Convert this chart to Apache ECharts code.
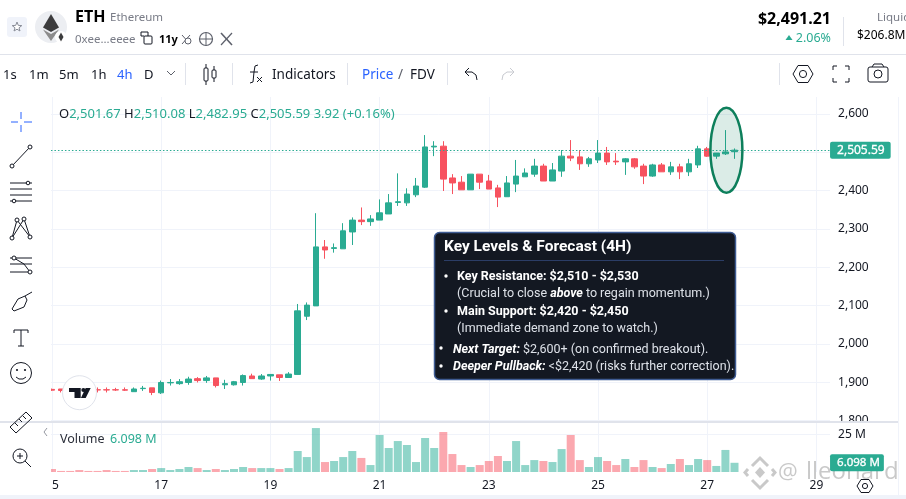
<!DOCTYPE html>
<html>
<head>
<meta charset="utf-8">
<style>html,body{margin:0;padding:0;background:#fff}#c{width:906px;height:499px}</style>
<script src="https://cdn.jsdelivr.net/npm/echarts@6/dist/echarts.min.js"></script>
</head>
<body>
<div id="c"></div>
<script>
const dayLabels = ['15','17','19','21','23','25','27','29'];
const opens  = [1881,1882,1881,1880,1881,1880,1880,1880,1880,1875,1883,1885,1872,1898,1896,1899,1909,1904,1911,1893,1893,1899,1916,1908,1916,1919,1912,1920,2072,2099,2253,2249,2248,2292,2323,2319,2323,2339,2369,2368,2389,2409,2514,2516,2433,2422,2402,2443,2425,2407,2384,2417,2436,2443,2464,2425,2451,2490,2488,2470,2480,2498,2477,2475,2483,2464,2438,2467,2449,2462,2449,2467,2509,2490,2496,2501.67];
const closes = [1879,1878,1879,1879,1880,1879.5,1879.5,1879.5,1879,1882,1884,1873,1899,1899,1901,1908,1904,1911,1891,1896,1901,1917,1909,1916,1920,1912,1921,2086,2101,2253,2245,2251,2295,2323,2319,2326,2342,2368,2371,2391,2412,2514,2516,2430,2420,2402,2443,2422,2404,2383,2420,2438,2446,2464,2425,2454,2490,2485,2470,2483,2498,2475,2475,2483,2462,2438,2467,2449,2462,2449,2470,2509,2490,2498,2501,2505.59];
const highs  = [1883,1882,1883,1882,1884,1886,1886,1885,1886,1886,1890,1885,1904,1908,1908,1914,1913,1916,1911,1906,1903,1920,1922,1921,1921,1919,1926,2104,2108,2341,2271,2262,2315,2330,2356,2336,2377,2391,2445,2406,2433,2545,2529,2529,2443,2438,2443,2443,2441,2415,2438,2480,2458,2483,2470,2472,2506,2532,2506,2488,2532,2514,2498,2485,2485,2470,2470,2472,2475,2470,2483,2517,2514,2498,2558,2510.08];
const lows   = [1877,1873,1876,1876,1876,1873,1873,1877,1877,1875,1877,1866,1869,1891,1893,1893,1899,1898,1886,1882,1891,1891,1909,1906,1904,1903,1912,1920,2062,2099,2222,2238,2248,2258,2310,2308,2323,2339,2360,2360,2383,2407,2490,2399,2391,2402,2402,2404,2404,2357,2384,2396,2436,2436,2425,2425,2436,2477,2454,2462,2472,2467,2467,2441,2457,2417,2436,2449,2441,2430,2438,2459,2488,2483,2493,2482.95];
const volumes = [2.0,0.7,0.7,1.3,0.7,0.7,1.3,0.7,0.7,1.3,1.3,2.0,2.6,1.3,2.0,3.3,2.6,1.3,2.0,1.3,2.0,3.3,2.6,2.6,2.6,2.0,2.6,13.9,9.9,29.1,6.6,7.3,9.9,13.9,9.3,4.6,24.5,15.9,20.5,17.9,6.6,22.5,15.9,26.5,11.9,4.6,3.3,4.6,7.3,10.6,7.3,20.5,4.6,7.9,7.3,6.6,15.2,24.5,7.9,3.3,9.9,7.3,4.6,8.6,3.3,7.9,3.3,2.6,5.3,8.6,4.6,8.6,7.9,4.0,14.6,6.098];
const lastPrice = 2505.59, lastVolume = 6.098;
const BANDS = 86, PER_LABEL = 12;

const categories = [];
for (let i = 0; i < BANDS; i++) categories.push(i % PER_LABEL === 0 ? dayLabels[i / PER_LABEL] : 'c' + i);

const UP = '#2aab92', DOWN = '#f7525f', INK = '#131722', GREY = '#787b86', BLUE = '#2962ff', RULE = '#e0e3eb', GRID = '#f0f3fa';
const UI = '"Noto Sans", sans-serif', BOX = 'Roboto, sans-serif';

const kData = opens.map((o, i) => [o, closes[i], lows[i], highs[i]]);
const vData = volumes.map((v, i) => ({value: v, itemStyle: {color: closes[i] >= opens[i] ? 'rgba(34,171,148,0.5)' : 'rgba(247,82,95,0.5)'}}));

const g = [];
const Z = 100;
const rect = (x, y, w, h, fill, extra) => g.push({type:'rect', z:(extra&&extra.z)||Z, silent:true, shape:{x,y,width:w,height:h,r:(extra&&extra.r)||0}, style:{fill}});
const ln = (pts, color, lw) => g.push({type:'polyline', z:Z+1, silent:true, shape:{points:pts}, style:{stroke:color||INK, lineWidth:lw||1, fill:null}});
const poly = (pts, fill) => g.push({type:'polygon', z:Z+1, silent:true, shape:{points:pts}, style:{fill}});
const circ = (x, y, r, fill, stroke, lw) => g.push({type:'circle', z:Z+1, silent:true, shape:{cx:x,cy:y,r}, style:{fill:fill||null, stroke:stroke||null, lineWidth:lw||1}});
const txt = (x, y, s, o) => { o = o||{}; g.push({type:'text', z:o.z||Z+2, silent:true, x, y:y+1, style:Object.assign({text:s, fill:o.c||INK, fontFamily:o.f||UI, fontSize:o.s||13, fontWeight:o.w||'normal', fontStyle:o.i||'normal', textAlign:o.a||'left', textVerticalAlign:'middle'}, o.rich?{rich:o.rich}:{})}); };

// panels around the plot
rect(0, 0, 906, 55, '#fff');
rect(0, 55, 906, 42, '#fff');
rect(0, 97, 51, 398, '#fff');
rect(44, 460, 7, 13, '#fff', {z:300});
rect(898, 97, 8, 398, '#fff');
rect(0, 495, 906, 4, GRID);
ln([[0,54.5],[906,54.5]], RULE);
rect(0, 421, 898, 2, RULE);
rect(830, 423, 68, 5, '#fff');
ln([[898.5,97],[898.5,495]], GRID);

// header
rect(7, 17, 20, 20, GRID, {r:3});
poly([[17,22],[18.3,25.4],[21.8,25.6],[19,27.8],[20,31],[17,29.2],[14,31],[15,27.8],[12.2,25.6],[15.7,25.4]], '#fff');
ln([[17,22],[18.3,25.4],[21.8,25.6],[19,27.8],[20,31],[17,29.2],[14,31],[15,27.8],[12.2,25.6],[15.7,25.4],[17,22]], '#8a8e99');
circ(51, 27, 16, '#eceef2');
poly([[51,14],[43,27.5],[51,32],[59,27.5]], '#3c3c3d');
poly([[43,29.5],[51,41],[59,29.5],[51,34]], '#8c8c8c');
circ(61, 37, 6, '#fff');
poly([[61,32.5],[58.5,37],[61,41.5],[63.5,37]], '#3c3c3d');
txt(75, 16, 'ETH', {s:16, w:'bold', c:'#000'});
txt(110, 17, 'Ethereum', {s:11.5, c:GREY});
txt(75, 39, '0xee...eeee', {s:11.5, c:GREY});
g.push({type:'rect', z:Z+1, silent:true, shape:{x:144,y:36,width:8,height:8,r:1}, style:{fill:null,stroke:INK,lineWidth:1}});
ln([[144,36],[141,36],[141,32],[148,32],[148,36]], INK);
txt(159, 39, '11y', {s:11, w:'bold', c:'#000'});
ln([[182,35],[190,44]], '#5d606b'); ln([[190,35],[182,44]], '#5d606b'); circ(188,41,3,'#fff','#5d606b');
circ(206, 39, 6.5, null, '#5d606b', 1.2); ln([[199.5,39],[212.5,39]],'#5d606b'); ln([[206,32.5],[206,45.5]],'#5d606b');
ln([[221,33],[232,45]], '#5d606b', 1.6); ln([[232,33],[221,45]], '#5d606b', 1.2);
txt(831, 18, '$2,491.21', {s:16, w:'bold', a:'right', c:'#000'});
txt(831, 37, '2.06%', {s:12.5, a:'right', c:UP});
poly([[789,35],[785.5,40],[792.5,40]], UP);
ln([[843.5,17],[843.5,46]], RULE);
txt(877, 17, 'Liquid', {s:11.5, c:GREY});
txt(857, 35, '$206.8M', {s:12, c:'#000'});

// toolbar
[['1s',3],['1m',29],['5m',59],['1h',91],['4h',117],['D',144]].forEach(([t,x]) => txt(x, 74, t, {s:13, c:t==='4h'?BLUE:INK}));
ln([[167,71],[171,75],[175,71]], '#5d606b');
[185.5,232.5,347.5,447.5,779.5].forEach(x => ln([[x,63],[x,85]], RULE));
g.push({type:'rect', z:Z+1, silent:true, shape:{x:204,y:68,width:4,height:13,r:1}, style:{fill:null,stroke:INK}});
g.push({type:'rect', z:Z+1, silent:true, shape:{x:212,y:70,width:4,height:8,r:1}, style:{fill:null,stroke:INK}});
ln([[206,64],[206,68]]); ln([[206,81],[206,85]]); ln([[214,66],[214,70]]); ln([[214,78],[214,82]]);
ln([[258,65],[255,66],[254,72],[253,82],[250,83]]); ln([[250,72],[258,72]]);
ln([[257,77],[262,82]]); ln([[262,77],[257,82]]);
txt(272, 74, 'Indicators', {s:13.5});
txt(362, 74, 'Price', {s:13.5, c:BLUE});
txt(398, 74, '/', {s:13.5, c:'#5d606b'});
txt(410, 74, 'FDV', {s:13.5});
ln([[465,72],[472,72],[476,75],[477,80]]); ln([[469,68],[465,72],[469,76]]);
ln([[514,72],[507,72],[503,75],[502,80]], '#c8cad0'); ln([[510,68],[514,72],[510,76]], '#c8cad0');
ln([[793,74],[798,65.5],[808,65.5],[813,74],[808,82.5],[798,82.5],[793,74]]); circ(803,74,3.6,null,INK);
[[[833,70],[833,66],[837,66]],[[845,66],[849,66],[849,70]],[[849,78],[849,82],[845,82]],[[837,82],[833,82],[833,78]]].forEach(p => ln(p));
g.push({type:'rect', z:Z+1, silent:true, shape:{x:868,y:67,width:20,height:15,r:2}, style:{fill:null,stroke:INK}});
ln([[872,67],[874,64],[882,64],[884,67]]); circ(878,74,4,null,INK);

// left drawing tools
ln([[11,122],[18,122]],BLUE); ln([[24,122],[32,122]],BLUE); ln([[21,112],[21,119]],BLUE); ln([[21,125],[21,132]],BLUE);
ln([[12,166],[30,147]]); circ(12,166,2,'#fff',INK); circ(30,147,2,'#fff',INK);
[183,189,195,201].forEach((y,i) => { ln([[10,y],[32,y]]); if(i%3===0) circ(i?14:28,y,1.8,'#fff',INK); });
ln([[12,238],[17,220],[30,237],[24,219],[12,238]]); [[12,238],[17,220],[30,237],[24,219]].forEach(p => circ(p[0],p[1],2,'#fff',INK));
ln([[10,258],[32,258]]); ln([[10,264],[32,264]]); ln([[10,272],[32,272]]); ln([[14,258],[24,264],[30,272]]); circ(14,258,2,'#fff',INK); circ(30,272,2,'#fff',INK);
ln([[12,309],[18,299],[25,296],[27,300],[24,307],[14,311],[12,309]]); ln([[25,296],[32,292]]);
ln([[14,330],[28,330]]); ln([[21,330],[21,346]]); ln([[18,346],[24,346]]); ln([[14,330],[14,333]]); ln([[28,330],[28,333]]);
circ(21,373,10.5,null,INK); circ(17,370,1.1,INK); circ(25,370,1.1,INK); ln([[16,377],[19,379],[23,379],[26,377]]);
ln([[10,427],[26,412],[32,418],[16,433],[10,427]]); ln([[15,423],[18,426]]); ln([[19,419],[22,422]]); ln([[23,416],[26,419]]);
circ(20,456,7,null,INK); ln([[25,461],[31,467]]); ln([[17,456],[23,456]]); ln([[20,453],[20,459]]);
ln([[47,428],[44,432],[47,436]], '#9598a1');

// legends
txt(59, 113, '{k|O}{v|2,501.67} {k|H}{v|2,510.08} {k|L}{v|2,482.95} {k|C}{v|2,505.59} {v|3.92 (+0.16%)}', {rich:{k:{fill:INK,fontSize:13,fontFamily:UI},v:{fill:UP,fontSize:13,fontFamily:UI}}});
txt(60, 438, 'Volume', {s:12.5, c:'#2a2e39'});
txt(110, 438, '6.098 M', {s:12.5, c:UP});

// TV badge
circ(79.5, 392.7, 17, '#fff', RULE, 1);
poly([[69,388],[80.7,388],[80.7,398],[74.5,398],[74.5,392],[69,392]], INK);
circ(83.4, 390, 2.1, INK);
poly([[85.7,388],[90.7,388],[85.7,398],[80.9,398]], INK);

// forecast box
g.push({type:'rect', z:Z+3, silent:true, shape:{x:434.5,y:232.5,width:301,height:147,r:5}, style:{fill:'#131822', stroke:'#3f5c94', lineWidth:1.5}});
const B = {f:BOX, z:Z+4};
const W = '#ffffff', L = '#dde1e8';
txt(444, 246, 'Key Levels & Forecast (4H)', {...B, s:15.5, w:'bold', c:W});
g.push({type:'line', z:Z+4, silent:true, shape:{x1:444,y1:260.5,x2:724,y2:260.5}, style:{stroke:'#2b3d66', lineWidth:1}});
const bullets = [[446,276],[446,311],[441,348],[441,366]];
bullets.forEach(p => g.push({type:'circle', z:Z+4, silent:true, shape:{cx:p[0],cy:p[1],r:1.7}, style:{fill:W}}));
const rich = {b:{fill:W,fontFamily:BOX,fontSize:12.5,fontWeight:'bold'}, n:{fill:L,fontFamily:BOX,fontSize:12.5}, bi:{fill:W,fontFamily:BOX,fontSize:12.5,fontWeight:'bold',fontStyle:'italic'}};
txt(457, 276, '{b|Key Resistance: $2,510 - $2,530}', {...B, rich});
txt(457, 293, '{n|(Crucial to close }{bi|above}{n| to regain momentum.)}', {...B, rich});
txt(457, 311, '{b|Main Support: $2,420 - $2,450}', {...B, rich});
txt(457, 328, '{n|(Immediate demand zone to watch.)}', {...B, rich});
txt(453, 349, '{bi|Next Target:}{n| $2,600+ (on confirmed breakout).}', {...B, rich});
txt(453, 366, '{bi|Deeper Pullback:}{n| <$2,420 (risks further correction).}', {...B, rich});

// watermark and axis settings glyph
const WM = 'rgba(165,165,165,0.6)';
ln([[748,469],[745,472.5],[748,476]], WM, 3);
ln([[772,469],[775,472.5],[772,476]], WM, 3);
ln([[752,466],[760,458],[768,466]], WM, 3);
ln([[752,480],[760,488],[768,480]], WM, 3);
poly([[760,467],[765,472.5],[760,478],[755,472.5]], WM);
txt(778, 472, '@', {s:22, c:WM, f:'"Open Sans", sans-serif', z:Z+6});
txt(806, 471, 'lleonard', {s:24, c:WM, f:'"Open Sans", sans-serif', z:Z+6});
ln([[857,486],[861,479.5],[869,479.5],[873,486],[869,492.5],[861,492.5],[857,486]], INK); circ(865,486,2.6,null,INK);

const chart = echarts.init(document.getElementById('c'), null, {renderer:'canvas'});
const labelFont = {fontFamily:UI, fontSize:12, color:INK};
chart.setOption({
  animation:false,
  backgroundColor:'#fff',
  grid:[
    {left:47.45, top:97, width:782.6, height:323.4},
    {left:47.45, top:423, width:782.6, height:49}
  ],
  xAxis:[
    {type:'category', gridIndex:0, data:categories, boundaryGap:true, axisLine:{show:false}, axisTick:{show:false}, axisLabel:{show:false, interval:PER_LABEL-1},
     splitLine:{show:true, alignWithLabel:true, interval:PER_LABEL-1, lineStyle:{color:GRID}}},
    {type:'category', gridIndex:1, data:categories, boundaryGap:true, axisLine:{show:false}, axisTick:{show:false},
     axisLabel:{...labelFont, interval:PER_LABEL-1, margin:6, hideOverlap:false, padding:[2,0,0,0]},
     splitLine:{show:true, alignWithLabel:true, interval:PER_LABEL-1, lineStyle:{color:GRID}}}
  ],
  yAxis:[
    {type:'value', gridIndex:0, position:'right', min:1800, max:2644.4, interval:100, axisLine:{show:false}, axisTick:{show:false},
     axisLabel:{...labelFont, margin:8, showMaxLabel:false, padding:[4,0,0,0], formatter:v=>v.toLocaleString('en-US')},
     splitLine:{show:true, showMaxLine:false, lineStyle:{color:GRID}}},
    {type:'value', gridIndex:1, position:'right', min:0, max:32.45, interval:25, axisLine:{show:false}, axisTick:{show:false},
     axisLabel:{...labelFont, margin:8, showMinLabel:false, showMaxLabel:false, padding:[4,0,0,0], formatter:v=>v+' M'},
     splitLine:{show:true, showMinLine:false, showMaxLine:false, lineStyle:{color:GRID}}}
  ],
  series:[
    {type:'candlestick', xAxisIndex:0, yAxisIndex:0, data:kData, barWidth:6,
     itemStyle:{color:UP, color0:DOWN, borderColor:UP, borderColor0:DOWN, borderWidth:1},
     markLine:{silent:true, symbol:'none', animation:false, precision:2,
       lineStyle:{color:UP, type:[1.5,2], width:1},
       label:{show:true, position:'end', distance:0, formatter:'2,505.59', color:'#fff', textBorderColor:'#fff', textBorderWidth:0.3, backgroundColor:UP, padding:[3,6,2,7], borderRadius:2, fontFamily:UI, fontSize:12},
       data:[{yAxis:lastPrice}]}},
    {type:'bar', xAxisIndex:1, yAxisIndex:1, data:vData, barWidth:8, z:200,
     markLine:{silent:true, symbol:'none', animation:false, precision:3, z:200,
       lineStyle:{color:'rgba(0,0,0,0)', width:0.1},
       label:{show:true, position:'end', distance:0, formatter:'6.098 M', color:'#fff', textBorderColor:'#fff', textBorderWidth:0.3, backgroundColor:UP, padding:[3,4,2,7], borderRadius:2, fontFamily:UI, fontSize:11.5},
       data:[{yAxis:lastVolume}]}}
  ],
  graphic:g
});

// highlight oval anchored to the last candles through the chart's own scales
const c = chart.convertToPixel({gridIndex:0}, [74, lastPrice]);
g.push({type:'ellipse', z:Z-10, silent:true, shape:{cx:c[0]+1, cy:c[1], rx:16, ry:42.5}, style:{fill:'rgba(13,127,91,0.15)', stroke:'#0d7f5b', lineWidth:2.5}});
chart.setOption({graphic:g}, {replaceMerge:['graphic']});
</script>
</body>
</html>
